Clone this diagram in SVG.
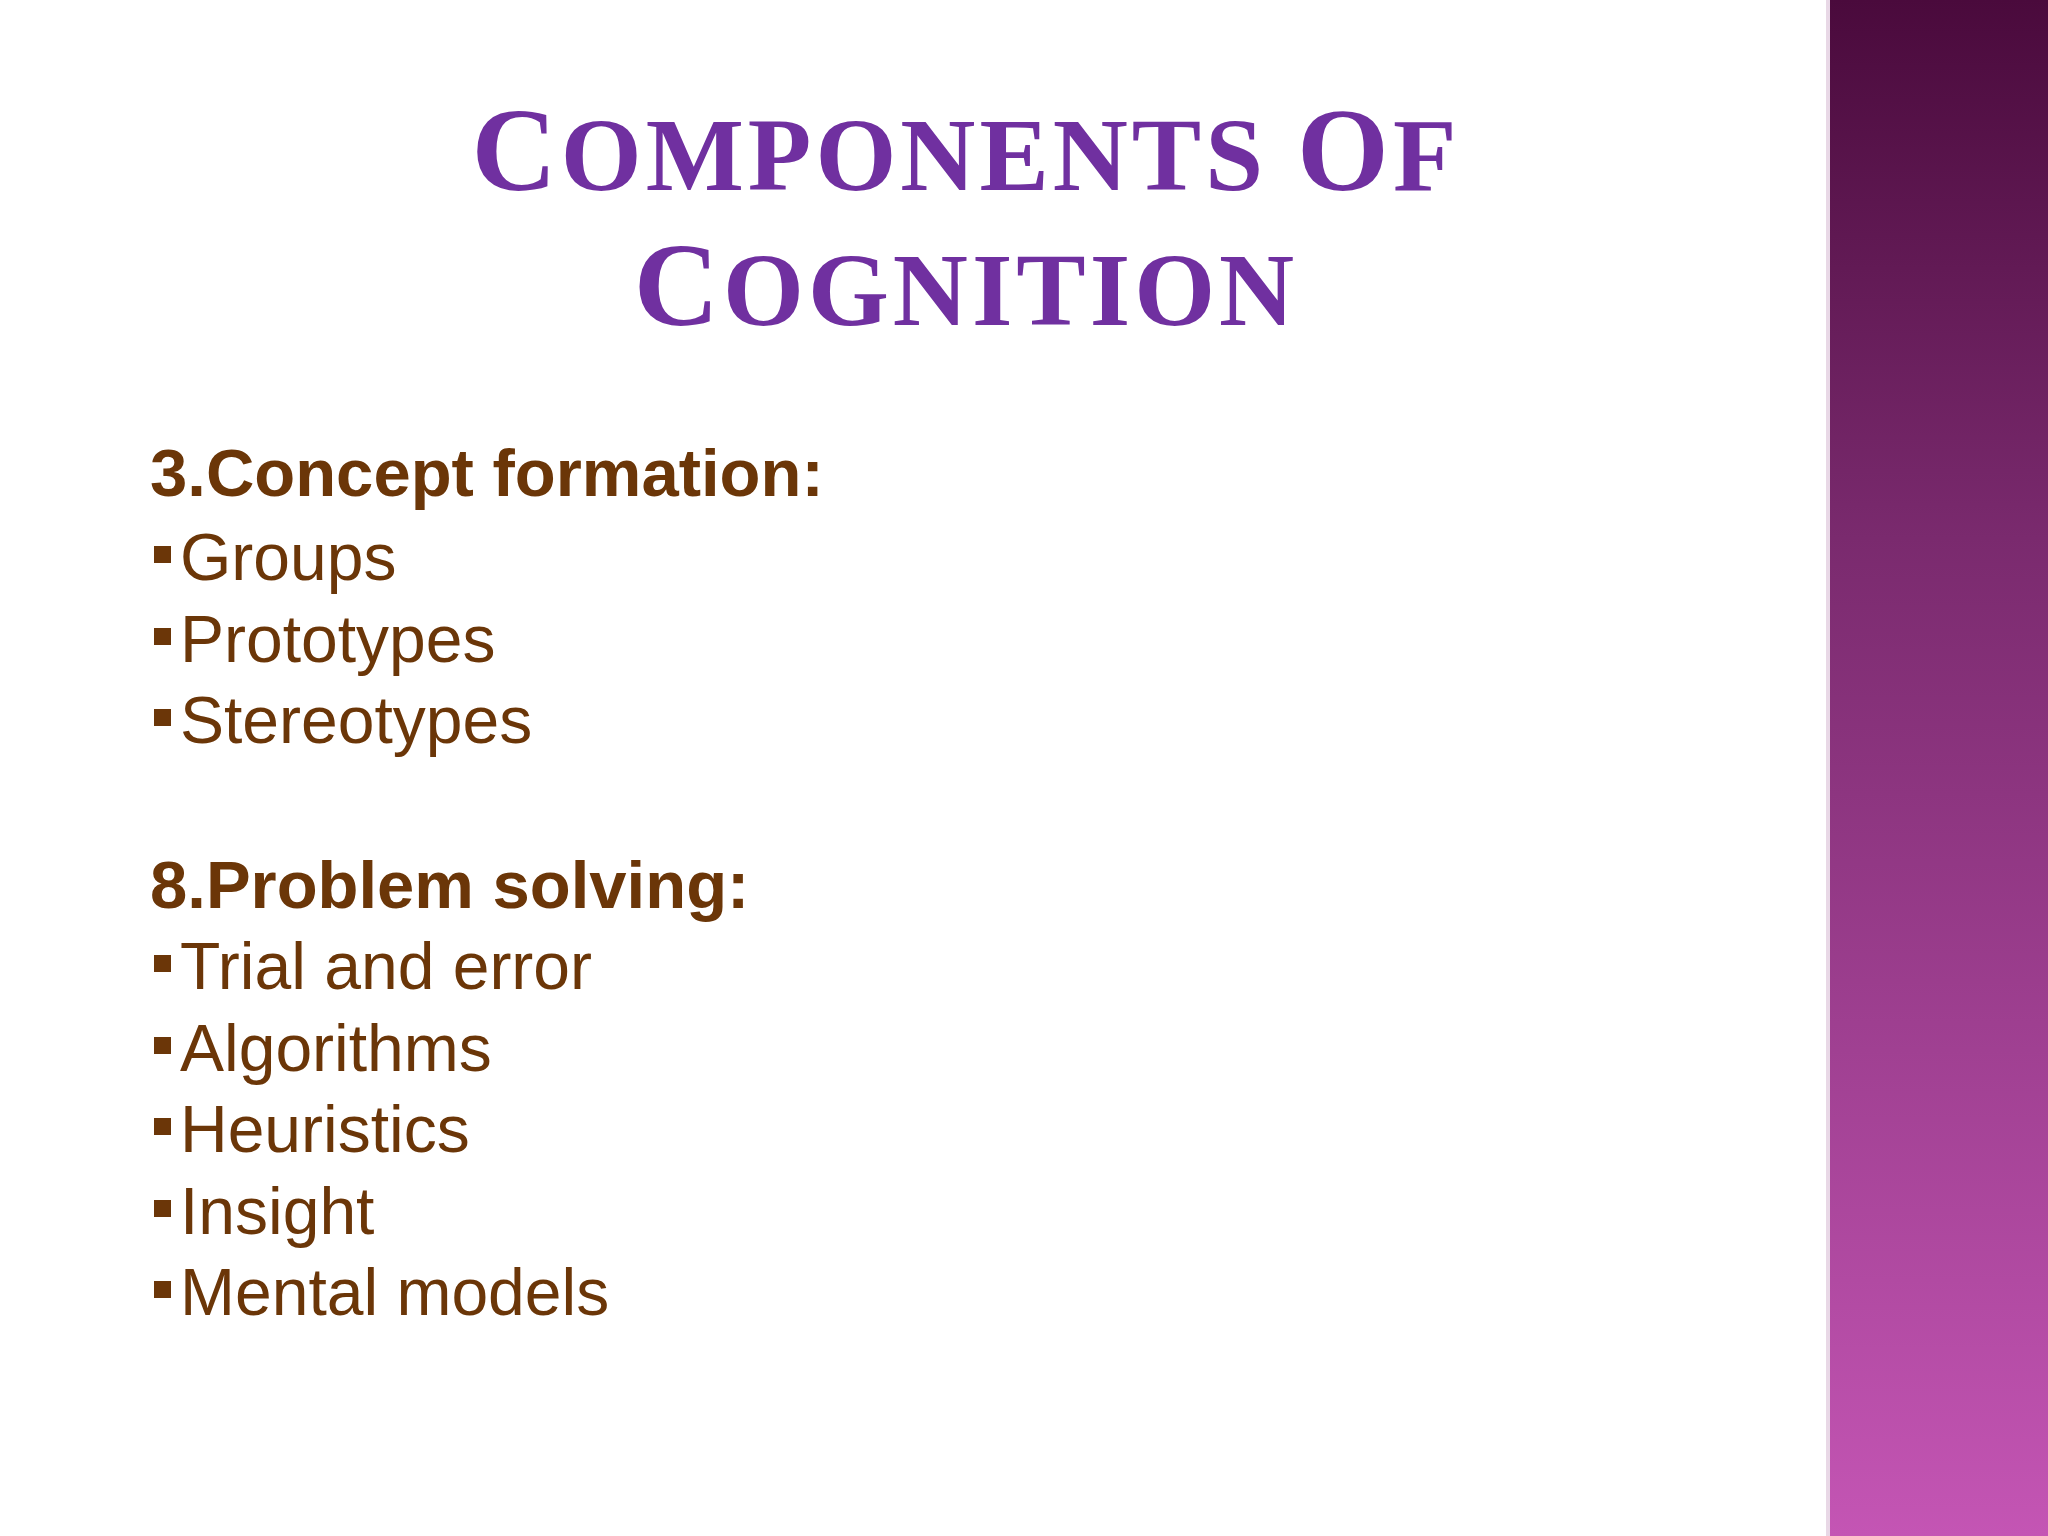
<svg xmlns="http://www.w3.org/2000/svg" width="2048" height="1536" viewBox="0 0 2048 1536">
<defs>
<linearGradient id="strip" x1="0" y1="0" x2="0" y2="1">
<stop offset="0" stop-color="#4A0A3C"/>
<stop offset="0.35" stop-color="#7A2A6E"/>
<stop offset="1" stop-color="#C455B4"/>
</linearGradient>
<style>
.t{font-family:"Liberation Serif",serif;font-weight:bold;fill:#7030A0;text-anchor:middle}
.h{font-family:"Liberation Sans",Arial,sans-serif;font-weight:bold;font-size:67px;fill:#6B3608}
.i{font-family:"Liberation Sans",Arial,sans-serif;font-size:66px;fill:#6B3608}
.b{fill:#6B3608}
</style>
</defs>
<rect width="2048" height="1536" fill="#FFFFFF"/>
<rect x="1826" y="0" width="222" height="1536" fill="url(#strip)"/>
<rect x="1826" y="0" width="4" height="1536" fill="#E8D8E6"/>
<g id="title">
<text class="t" x="966" y="190" font-size="104" letter-spacing="4"><tspan font-size="118">C</tspan>OMPONENTS <tspan font-size="118">O</tspan>F</text>
<text class="t" x="966" y="325" font-size="104" letter-spacing="4"><tspan font-size="118">C</tspan>OGNITION</text>
</g>
<g id="concept">
<text class="h" x="150" y="496">3.Concept formation:</text>
<rect class="b" x="154" y="546" width="17" height="17"/><text class="i" x="180" y="580">Groups</text>
<rect class="b" x="154" y="628" width="17" height="17"/><text class="i" x="180" y="662">Prototypes</text>
<rect class="b" x="154" y="709" width="17" height="17"/><text class="i" x="180" y="743">Stereotypes</text>
</g>
<g id="problem">
<text class="h" x="150" y="908">8.Problem solving:</text>
<rect class="b" x="154" y="955" width="17" height="17"/><text class="i" x="180" y="989">Trial and error</text>
<rect class="b" x="154" y="1037" width="17" height="17"/><text class="i" x="180" y="1071">Algorithms</text>
<rect class="b" x="154" y="1118" width="17" height="17"/><text class="i" x="180" y="1152">Heuristics</text>
<rect class="b" x="154" y="1200" width="17" height="17"/><text class="i" x="180" y="1234">Insight</text>
<rect class="b" x="154" y="1281" width="17" height="17"/><text class="i" x="180" y="1315">Mental models</text>
</g>
<g id="connectors"/>
</svg>
